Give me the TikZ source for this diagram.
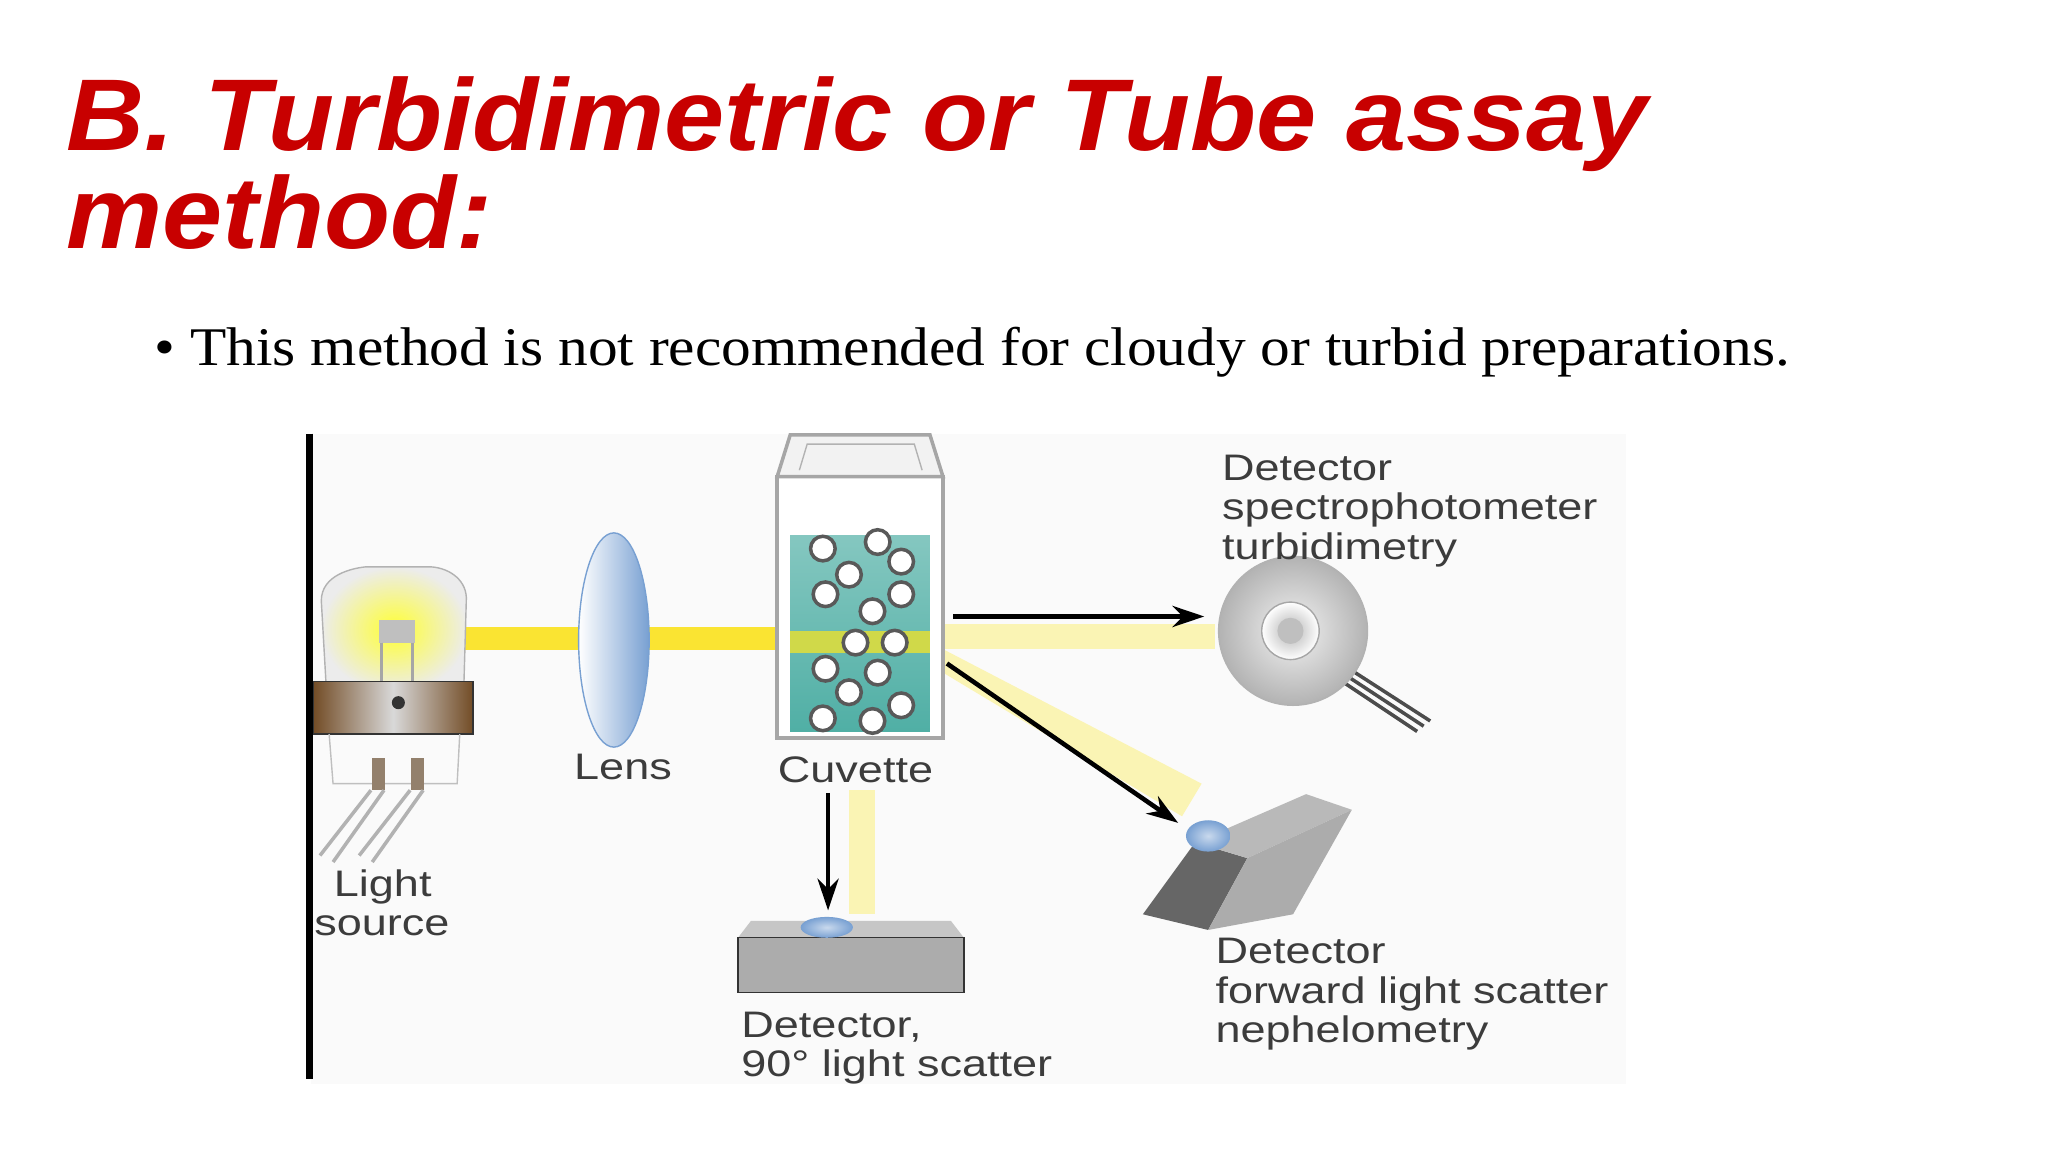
\documentclass[tikz,border=0pt]{standalone}
\usepackage{fontspec}
\setmainfont{Liberation Serif}
\setsansfont{Liberation Sans}
\newfontfamily\titlefont{Liberation Sans}
\usetikzlibrary{arrows.meta}
\definecolor{tred}{RGB}{200,0,0}
\definecolor{lab}{RGB}{60,60,60}
\definecolor{beam}{RGB}{250,228,50}
\definecolor{pale}{RGB}{250,244,180}
\definecolor{teal1}{RGB}{80,175,165}
\definecolor{lensb}{RGB}{120,160,210}
\tikzset{
 lbl/.style={font=\sffamily\fontsize{10.5pt}{11.2pt}\selectfont,text=lab,align=left,inner sep=0pt,xscale=1.22},
 arr/.style={-{Stealth[length=9pt,width=6pt]},line width=1.3pt,black},
 dot/.style={circle,fill=white,draw=gray!70!black,line width=1pt,inner sep=0pt,minimum size=7pt},
 ttl/.style={anchor=base west,inner sep=0,text=tred,font=\titlefont\bfseries\itshape\fontsize{29pt}{30pt}\selectfont,xscale=1.06}
}
\begin{document}
\begin{tikzpicture}[x=0.01306cm,y=-0.01306cm]
\useasboundingbox (0,0) rectangle (1568,882);
\fill[white] (0,0) rectangle (1568,882);
\node[ttl] (t1) at (50,115) {B. Turbidimetric or Tube assay};
\node[ttl] (t2) at (50,190) {method:};
\node[anchor=base west,inner sep=0,font=\fontsize{15.5pt}{17pt}\selectfont,xscale=1.09] (b) at (118,280) {\textbullet\ This method is not recommended for cloudy or turbid preparations.};
% frame
\fill[gray!4] (238,332) rectangle (1245,830);
\draw[line width=2pt] (237,332) -- (237,826);
% beams
\fill[beam] (355,480) rectangle (600,498);
\fill[pale] (722,478) rectangle (930,497);
\fill[pale] (722,497) -- (722,515) -- (905,625) -- (920,600) -- cycle;
\fill[pale] (650,605) rectangle (670,700);
% bulb
\shade[inner color=yellow!80,outer color=gray!15,draw=gray!60] (250,530) -- (246,460) .. controls (246,440) and (270,435) .. (280,434) -- (330,434) .. controls (345,435) and (358,445) .. (357,460) -- (355,530) -- cycle;
\fill[gray!50] (290,475) rectangle (318,492);
\draw[gray!70,line width=1pt] (292,492) -- (292,522) (316,492) -- (316,522);
\shade[left color=brown!60!black,right color=brown!60!black,middle color=gray!30,draw=gray!40!black] (240,522) rectangle (362,562);
\fill[black!80] (305,538) circle (5);
\draw[gray!50] (252,562) -- (255,600) -- (350,600) -- (352,562);
\foreach \xx in {290,320}{\fill[gray!70!brown] (\xx-5,580) rectangle (\xx+5,605);
 \draw[gray!60,line width=1pt] (\xx-6,605) -- (\xx-45,655) (\xx+4,605) -- (\xx-35,660);}
% lens
\shade[left color=white,right color=lensb,draw=lensb] (470,490) ellipse (27 and 82);
% cuvette
\draw[gray!70,line width=1pt,fill=white] (595,365) rectangle (722,565);
\draw[gray!70,line width=1pt,fill=gray!10] (595,365) -- (605,333) -- (712,333) -- (722,365) -- cycle;
\draw[gray!60] (612,360) -- (618,340) -- (700,340) -- (706,360);
\shade[top color=teal1!70,bottom color=teal1,draw=none] (605,410) rectangle (712,560);
\fill[yellow!70!teal1] (605,483) rectangle (712,500);
\foreach \cx/\cy in {630/420, 672/415, 690/430, 650/440, 668/468, 690/455, 632/455, 655/492, 685/492, 632/512, 672/515, 690/540, 650/530, 630/550, 668/552}
 {\node[dot] at (\cx,\cy) {};}
% arrows
\coordinate (a1) at (730,472); \coordinate (a2) at (922,472);
\draw[arr] (a1) -- (a2);
\coordinate (a3) at (725,508); \coordinate (a4) at (902,630);
\draw[arr] (a3) -- (a4);
\coordinate (a5) at (634,607); \coordinate (a6) at (634,697);
\draw[arr] (a5) -- (a6);
% disc detector
\draw[gray!60!black,line width=1pt] (1028,522) -- (1085,560) (1036,514) -- (1095,552) (1032,518) -- (1090,556);
\shade[inner color=gray!10,outer color=gray!60,draw=gray!60] (990,483) circle (57);
\shade[inner color=gray!60,outer color=white,draw=gray!70] (988,483) circle (22);
\fill[gray!50] (988,483) circle (10);
% angled detector
\fill[gray!80!black] (875,700) -- (915,645) -- (955,657) -- (925,712) -- cycle;
\fill[gray!55] (915,645) -- (1000,608) -- (1035,620) -- (955,657) -- cycle;
\fill[gray!65] (955,657) -- (1035,620) -- (990,700) -- (925,712) -- cycle;
\shade[inner color=lensb!40,outer color=lensb] (925,640) ellipse (17 and 12);
% bottom detector
\fill[gray!45] (575,705) -- (728,705) -- (738,718) -- (565,718) -- cycle;
\fill[gray!65] (565,718) rectangle (738,760);
\draw[gray!40!black] (565,718) rectangle (738,760);
\shade[inner color=lensb!40,outer color=lensb] (633,710) ellipse (20 and 8);
% labels
\node[lbl,anchor=base] (lens) at (477,597) {Lens};
\node[lbl,anchor=base] (cuv) at (655,599) {Cuvette};
\node[lbl,anchor=base west] (ls1) at (255,686) {Light};
\node[lbl,anchor=base west] (ls2) at (240,716) {source};
\node[lbl,anchor=base west] (d1) at (935,368) {Detector};
\node[lbl,anchor=base west] (d2) at (935,398) {spectrophotometer};
\node[lbl,anchor=base west] (d3) at (935,428) {turbidimetry};
\node[lbl,anchor=base west] (f1) at (930,738) {Detector};
\node[lbl,anchor=base west] (f2) at (930,768) {forward light scatter};
\node[lbl,anchor=base west] (f3) at (930,798) {nephelometry};
\node[lbl,anchor=base west] (n1) at (567,794) {Detector,};
\node[lbl,anchor=base west] (n2) at (567,824) {90° light scatter};
\end{tikzpicture}
\end{document}
